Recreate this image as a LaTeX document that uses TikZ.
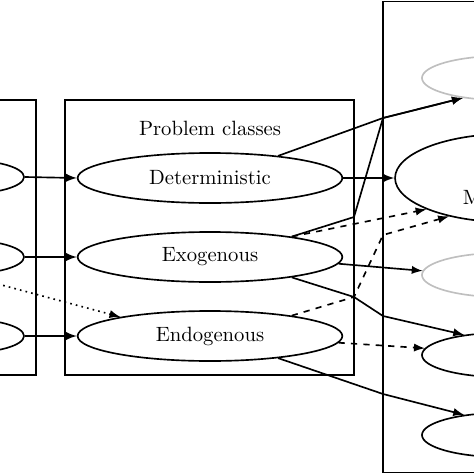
\documentclass[tikz,border=0pt]{standalone}
\usetikzlibrary{shapes.geometric}
\begin{document}
\begin{tikzpicture}[x=0.017cm,y=-0.017cm,thick,>=latex,
  cls/.style={ellipse,draw,inner sep=0pt,minimum width=4.5cm,minimum height=0.85cm},
  src/.style={ellipse,draw,inner sep=0pt,minimum width=2.04cm,minimum height=0.58cm},
  tgt/.style={ellipse,draw,inner sep=0pt,minimum width=2.72cm,minimum height=0.75cm},
  faded/.style={tgt,draw=black!25}]
\useasboundingbox (0,0) rectangle (474,474);
\clip (0,0) rectangle (474,474);

% boxes
\draw (-100,100) rectangle (36,375);
\draw (65,100) rectangle (354,375);
\draw (383,1.5) rectangle (600,472.5);
\node (title) at (210,128) {Problem classes};

% left column
\node[src] (src1) at (-36,177) {};
\node[src] (src2) at (-36,257) {};
\node[src] (src3) at (-36,336) {};

% problem classes
\node[cls] (det) at (210,178) {Deterministic};
\node[cls] (exo) at (210,257) {Exogenous};
\node[cls] (endo) at (210,336) {Endogenous};

% right column
\node[faded] (out1) at (502,78) {};
\node[ellipse,draw,inner sep=0pt,minimum width=3.84cm,minimum height=1.5cm] (out2) at (508,178) {};
\node[anchor=west,inner sep=0pt] (mlab) at (462,197) {M};
\node[faded] (out3) at (502,275) {};
\node[tgt] (out4) at (502,355) {};
\node[tgt] (out5) at (502,435) {};

\draw[->] (src1.east) -- (det.west);
\draw[->] (src2.east) -- (exo.west);
\draw[->] (src3.east) -- (endo.west);
\draw[->,dotted] (src2.south) -- (endo.168);

\draw[->] (det.east) -- (out2.west);
\draw[->] (det.18) -- (383,118) -- (out1.207);
\draw[->] (exo.14) -- (354,217) -- (383,118) -- (out1.207);
\draw[->,dashed] (exo.14) -- (out2.201);
\draw[->,dashed] (endo.14) -- (354,297) -- (383,235) -- (out2.213);
\draw[->] (exo.357) -- (out3.177);
\draw[->] (exo.346) -- (354,297) -- (383,316) -- (out4.152);
\draw[->,dashed] (endo.357) -- (out4.175);
\draw[->] (endo.342) -- (383,394) -- (out5.152);

\end{tikzpicture}
\end{document}
